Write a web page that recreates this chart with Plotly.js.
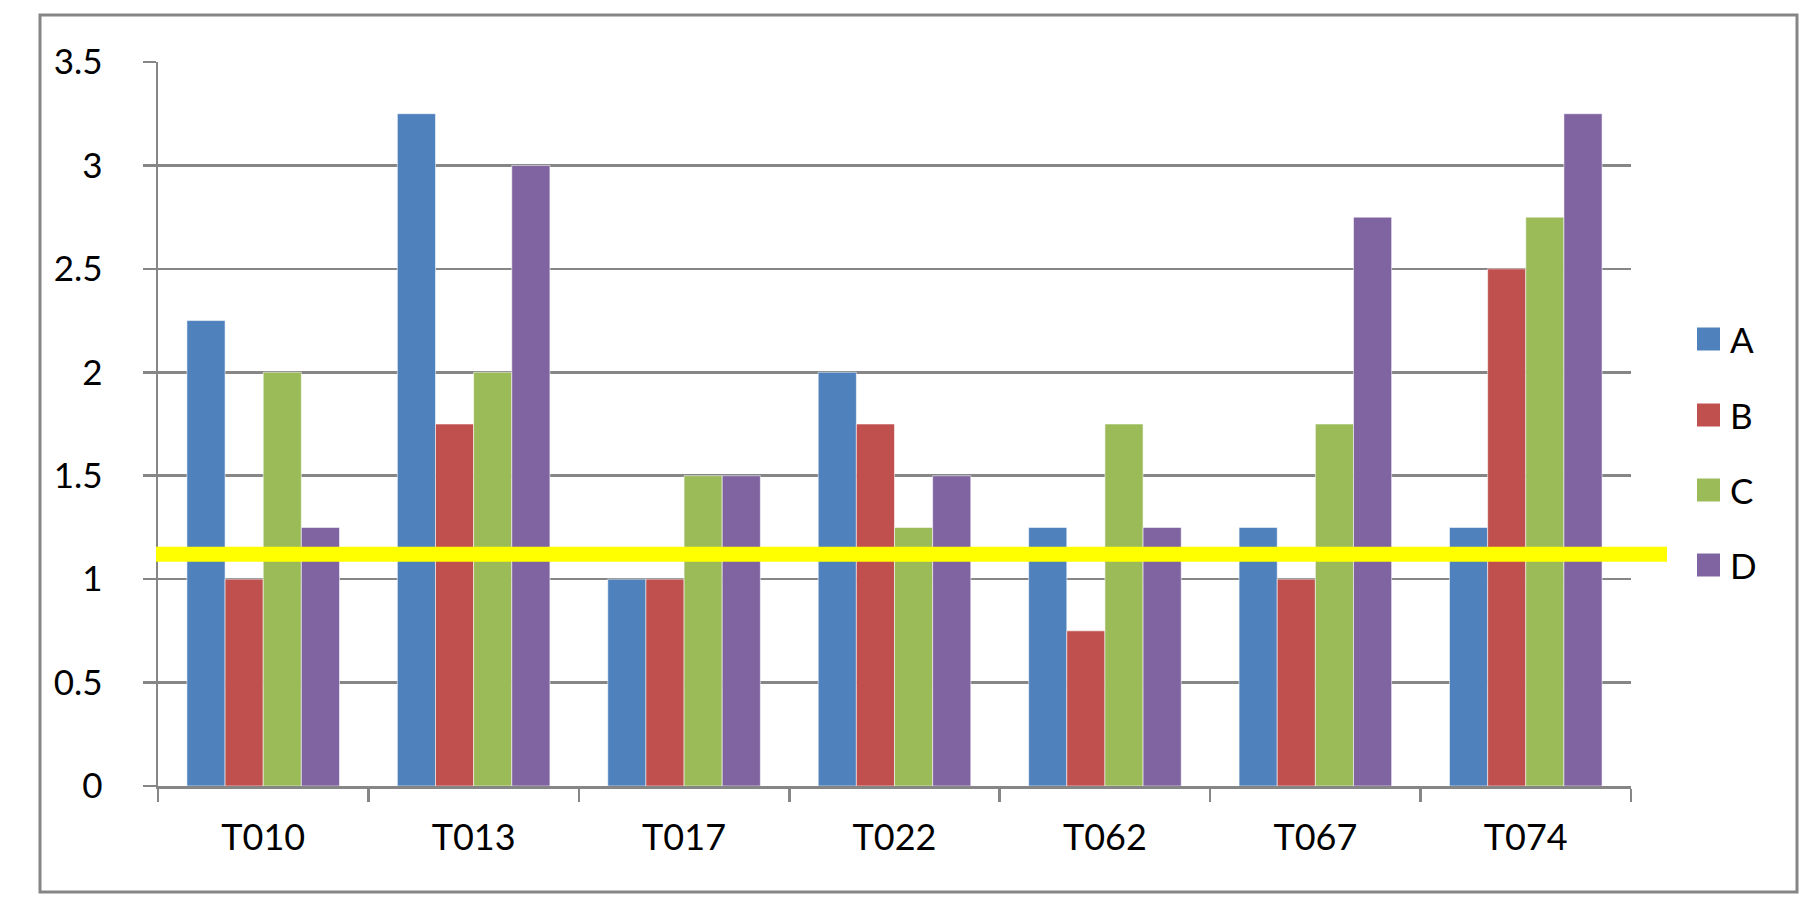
<!DOCTYPE html>
<html>
<head>
<meta charset="utf-8">
<script src="https://cdn.plot.ly/plotly-3.0.1.min.js"></script>
<style>
html,body{margin:0;padding:0;background:#fff;}
#chart{width:1808px;height:898px;}
</style>
</head>
<body>
<div id="chart"></div>
<script>
// ---- data ----
const categories = ["T010", "T013", "T017", "T022", "T062", "T067", "T074"];
const seriesNames = ["A", "B", "C", "D"];
const valuesA = [2.25, 3.25, 1, 2, 1.25, 1.25, 1.25];
const valuesB = [1, 1.75, 1, 1.75, 0.75, 1, 2.5];
const valuesC = [2, 2, 1.5, 1.25, 1.75, 1.75, 2.75];
const valuesD = [1.25, 3, 1.5, 1.5, 1.25, 2.75, 3.25];
const thresholdValue = [1.12];
const yTickValues = [0, 0.5, 1, 1.5, 2, 2.5, 3, 3.5];
const yTickLabels = ["0", "0.5", "1", "1.5", "2", "2.5", "3", "3.5"];

// ---- styling ----
const colors = ["#4F81BD", "#C0504D", "#9BBB59", "#8064A2"];
const gridColor = "#868686";
const fontFamily = "Lato, 'Open Sans', sans-serif";

const W = 1808, H = 898;
const plotL = 158, plotR = 1631, plotT = 62, plotB = 786;
const pw = plotR - plotL, ph = plotB - plotT;
const px = x => (x - plotL) / pw;
const py = y => (plotB - y) / ph;

const seriesValues = [valuesA, valuesB, valuesC, valuesD];
const traces = seriesNames.map((name, i) => ({
  type: "bar",
  name: name,
  x: categories,
  y: seriesValues[i],
  marker: {color: colors[i], line: {color: "rgba(255,255,255,0.55)", width: 1}},
  showlegend: false,
  hoverinfo: "x+y+name"
}));

const shapes = [];
const annotations = [];

// outer chart frame
shapes.push({
  type: "rect", xref: "paper", yref: "paper",
  x0: px(40), x1: px(1797), y0: py(892), y1: py(15),
  line: {color: gridColor, width: 3}, fillcolor: "rgba(0,0,0,0)", layer: "below"
});

// threshold line (yellow)
shapes.push({
  type: "line", xref: "paper", yref: "y",
  x0: px(156), x1: px(1667), y0: thresholdValue[0], y1: thresholdValue[0],
  line: {color: "#FFFF00", width: 15}, layer: "above"
});

// custom legend
const legendY = [339, 415, 490, 565];
seriesNames.forEach((name, i) => {
  shapes.push({
    type: "rect", xref: "paper", yref: "paper",
    x0: px(1697), x1: px(1720), y0: py(legendY[i] + 11.5), y1: py(legendY[i] - 11.5),
    fillcolor: colors[i], line: {width: 0}
  });
  annotations.push({
    xref: "paper", yref: "paper", x: px(1728), y: py(legendY[i]),
    xanchor: "left", yanchor: "middle", text: name, showarrow: false,
    font: {family: fontFamily, size: 35, color: "#000"}
  });
});

const layout = {
  width: W, height: H,
  margin: {l: plotL, r: W - plotR, t: plotT, b: H - plotB, pad: 0},
  paper_bgcolor: "#fff", plot_bgcolor: "#fff",
  barmode: "group", bargap: 0.275, bargroupgap: 0,
  showlegend: false,
  font: {family: fontFamily, size: 36, color: "#000"},
  xaxis: {
    type: "category",
    showgrid: false,
    showline: true, linecolor: gridColor, linewidth: 2.5,
    ticks: "outside", tickson: "boundaries", ticklen: 13, tickwidth: 2.5, tickcolor: gridColor,
    tickfont: {family: fontFamily, size: 36, color: "#000"},
    ticklabelstandoff: 18,
    zeroline: false, fixedrange: true
  },
  yaxis: {
    range: [0, 3.5],
    tickvals: yTickValues, ticktext: yTickLabels,
    showgrid: true, gridcolor: gridColor, gridwidth: 2.5,
    showline: true, linecolor: gridColor, linewidth: 2.5,
    ticks: "outside", ticklen: 13, tickwidth: 2.5, tickcolor: gridColor,
    tickfont: {family: fontFamily, size: 35, color: "#000"},
    ticklabelstandoff: 33,
    zeroline: false, fixedrange: true
  },
  shapes: shapes,
  annotations: annotations
};

Plotly.newPlot("chart", traces, layout, {displayModeBar: false, staticPlot: true});
</script>
</body>
</html>
